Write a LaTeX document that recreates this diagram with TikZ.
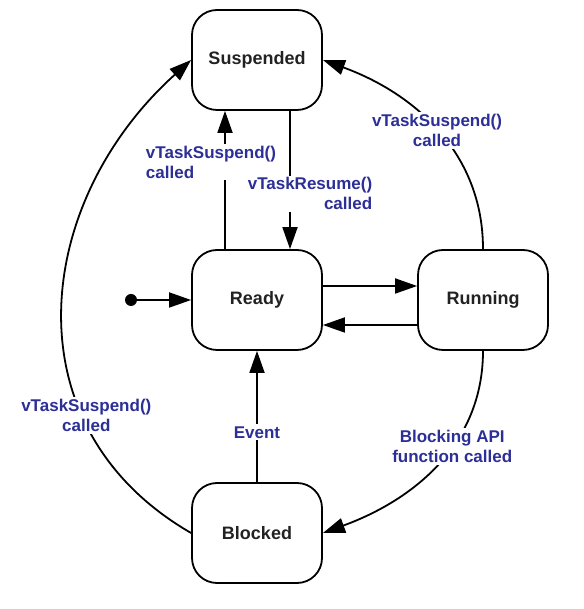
\documentclass[tikz,border=0pt]{standalone}
\usepackage{fontspec}
\setmainfont{Liberation Sans}
\usetikzlibrary{positioning}
\usetikzlibrary{arrows.meta}
\definecolor{pBlue}{HTML}{2C2F96}
\definecolor{pText}{HTML}{222222}

\tikzset{
  state/.style={draw, line width=1.8pt, rounded corners=25pt, minimum width=130pt,
    minimum height=100pt, font=\fontsize{18}{22}\selectfont\bfseries, text=pText},
  trans/.style={line width=1.8pt, -{Triangle[length=22pt, width=15pt]}},
  lbl/.style={font=\fontsize{17}{20}\selectfont\bfseries, text=pBlue, fill=white, inner sep=2pt}
}

\begin{document}
\begin{tikzpicture}[x=1pt, y=1pt]
    \useasboundingbox (0,0) rectangle (583,609);

    \node[state] (sus) at (257,549) {Suspended};
    \node[state] (rdy) at (257,309) {Ready};
    \node[state] (run) at (483,309) {Running};
    \node[state] (blk) at (257,76) {Blocked};
    \node[circle, fill=black, inner sep=0pt, minimum size=12pt] (init) at (131,309) {};

    \draw[trans] (init) -- (rdy.west);
    \draw[trans] ([yshift=14pt]rdy.east) -- ([yshift=14pt]run.west);
    \draw[trans] ([yshift=-25pt]run.west) -- ([yshift=-25pt]rdy.east);

    \draw[trans] ([xshift=-32pt]rdy.north) -- node[lbl, align=left, pos=0.63, xshift=-14pt] {vTaskSuspend()\\called} ([xshift=-32pt]sus.south);
    \draw[trans] ([xshift=33pt]sus.south) -- node[lbl, align=right, pos=0.6, xshift=20pt] {vTaskResume()\\called} ([xshift=33pt]rdy.north);
    \draw[trans] (blk.north) -- node[lbl, pos=0.38] {Event} (rdy.south);

    \draw[trans] (run.north) to[out=90, in=-20] node[lbl, align=center, pos=0.5] {vTaskSuspend()\\called} (sus.east);
    \draw[trans] (run.south) to[out=-90, in=20] node[lbl, align=center, pos=0.4] {Blocking API\\function called} (blk.east);
    \draw[trans] (blk.west) to[out=150, in=-138, looseness=1.15] node[lbl, align=center, pos=0.29, xshift=4pt] {vTaskSuspend()\\called} (sus.west);

  \end{tikzpicture}
\end{document}
